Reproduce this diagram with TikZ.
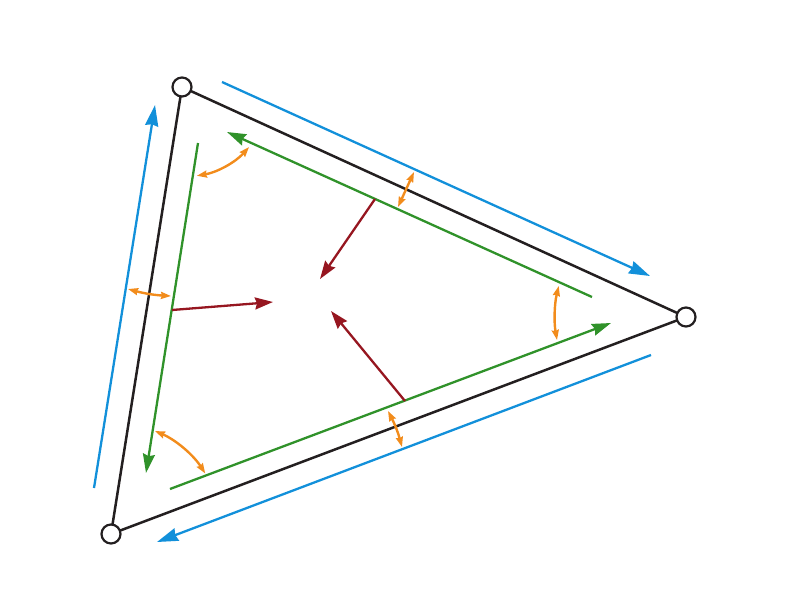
\documentclass[tikz,border=0pt]{standalone}
\usetikzlibrary{arrows.meta}
\definecolor{cblue}{RGB}{18,144,218}
\definecolor{cgreen}{RGB}{48,146,42}
\definecolor{cred}{RGB}{150,22,32}
\definecolor{corange}{RGB}{242,140,28}
\definecolor{cblack}{RGB}{35,31,32}
\tikzset{
  side/.style={draw=cblack, line width=2.5pt},
  vtx/.style={circle, draw=cblack, fill=white, line width=2.2pt, minimum size=19pt, inner sep=0pt},
  bluearr/.style={draw=cblue, line width=2.3pt, -{Stealth[length=21pt,width=13pt,inset=1.5pt]}},
  greenarr/.style={draw=cgreen, line width=2.3pt, -{Stealth[length=19pt,width=12pt,inset=2pt]}},
  redarr/.style={draw=cred, line width=2.3pt, -{Stealth[length=18pt,width=12pt,inset=2pt]}},
  orangearr/.style={draw=corange, line width=2.4pt, {Stealth[length=10pt,width=7pt,inset=1pt]}-{Stealth[length=10pt,width=7pt,inset=1pt]}}
}
\begin{document}
\begin{tikzpicture}[x=1pt,y=-1pt]
\useasboundingbox (0,0) rectangle (800,600);
% vertices
\coordinate (Ac) at (182,87);
\coordinate (Bc) at (686,317);
\coordinate (Cc) at (111,534);
% triangle sides
\draw[side] (Ac) -- (Bc) -- (Cc) -- cycle;
\node[vtx] (A) at (Ac) {};
\node[vtx] (B) at (Bc) {};
\node[vtx] (C) at (Cc) {};
% blue arrows
\coordinate (b1s) at (94,488);  \coordinate (b1e) at (155,105);
\coordinate (b2s) at (222,82);  \coordinate (b2e) at (650,276);
\coordinate (b3s) at (651,355); \coordinate (b3e) at (157,542);
\draw[bluearr] (b1s) -- (b1e);
\draw[bluearr] (b2s) -- (b2e);
\draw[bluearr] (b3s) -- (b3e);
% green arrows
\coordinate (g1s) at (198,143); \coordinate (g1e) at (146,473);
\coordinate (g2s) at (592,297); \coordinate (g2e) at (227,132);
\coordinate (g3s) at (170,489); \coordinate (g3e) at (611,323);
\draw[greenarr] (g1s) -- (g1e);
\draw[greenarr] (g2s) -- (g2e);
\draw[greenarr] (g3s) -- (g3e);
% red arrows
\coordinate (r1s) at (172,310); \coordinate (r1e) at (273,302);
\coordinate (r2s) at (375,199); \coordinate (r2e) at (320,279);
\coordinate (r3s) at (405,401); \coordinate (r3e) at (331,311);
\draw[redarr] (r1s) -- (r1e);
\draw[redarr] (r2s) -- (r2e);
\draw[redarr] (r3s) -- (r3e);
% orange angle arcs at the vertices
\draw[orangearr] ([shift={(80.5:90)}]Ac) arc[start angle=80.5, end angle=41.8, radius=90];
\draw[orangearr] ([shift={(193.7:131)}]Bc) arc[start angle=193.7, end angle=169.9, radius=131];
\draw[orangearr] ([shift={(-66.9:112)}]Cc) arc[start angle=-66.9, end angle=-32.7, radius=112];
% orange crossing arrows
\coordinate (o1s) at (128,289); \coordinate (o1e) at (171,296);
\coordinate (o2s) at (414,172); \coordinate (o2e) at (398,207);
\coordinate (o3s) at (388,411); \coordinate (o3e) at (402,447);
\draw[orangearr] (o1s) to[bend right=6] (o1e);
\draw[orangearr] (o2s) -- (o2e);
\draw[orangearr] (o3s) to[bend left=6] (o3e);
\end{tikzpicture}
\end{document}
